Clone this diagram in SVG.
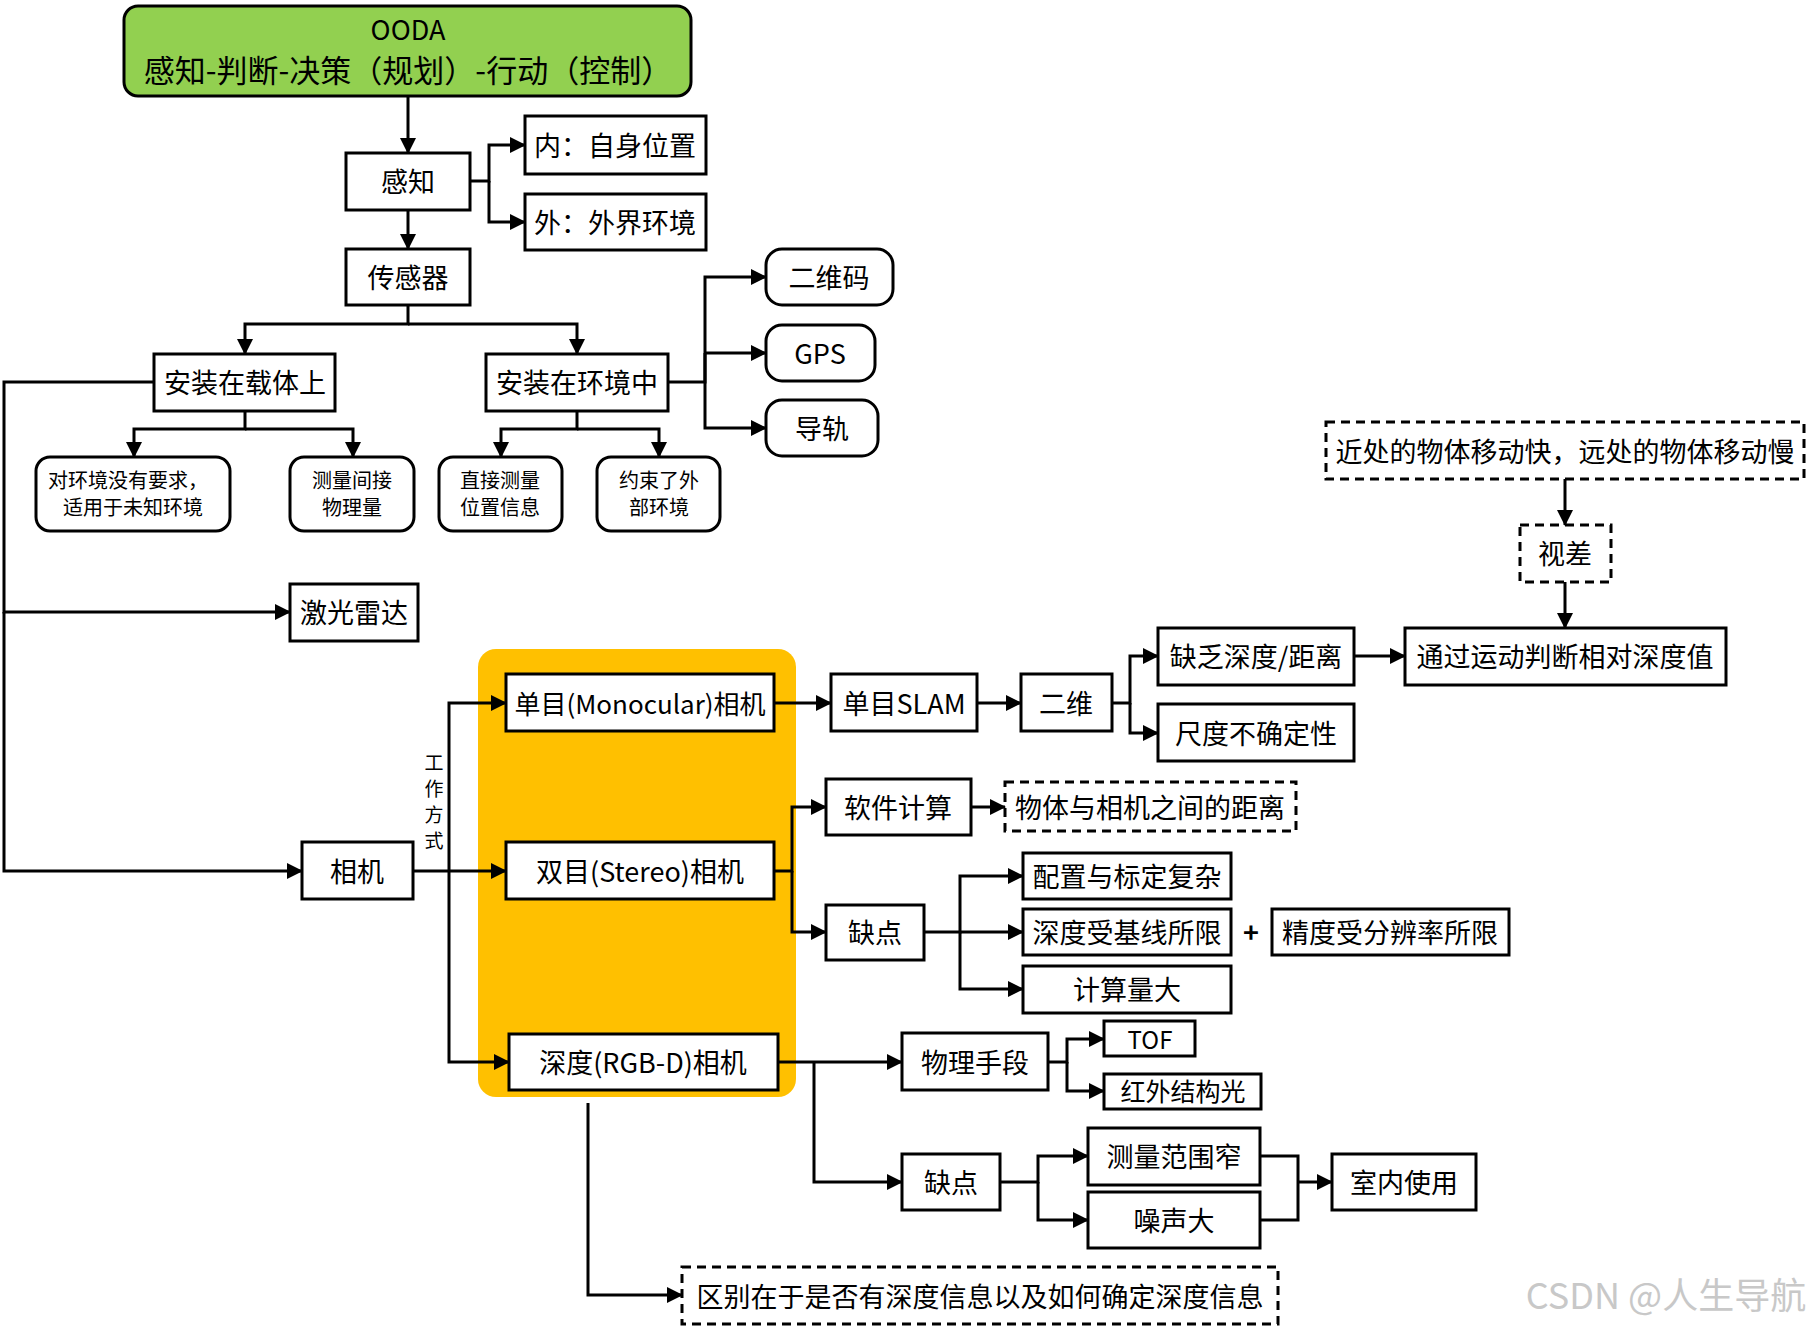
<svg xmlns="http://www.w3.org/2000/svg" width="1807" height="1327" viewBox="0 0 1807 1327">
<defs>
<marker id="a" markerUnits="userSpaceOnUse" markerWidth="16" markerHeight="16" refX="15" refY="8" orient="auto"><path d="M0,0 L16,8 L0,16 z" fill="#000"/></marker>
<style>
.b{fill:#fff;stroke:#000;stroke-width:3}
.d{fill:#fff;stroke:#000;stroke-width:3;stroke-dasharray:9,6}
text{font-family:"Noto Sans CJK SC","Noto Sans",sans-serif;font-size:27px;text-anchor:middle;dominant-baseline:central;fill:#000}
.s{font-size:20px}
.c path{fill:none;stroke:#000;stroke-width:3}
</style>
</defs>
<rect width="1807" height="1327" fill="#fff"/>
<rect x="478" y="649" width="318" height="448" rx="18" fill="#FFC000"/>
<g id="ooda"><rect x="124" y="6" width="567" height="90" rx="14" fill="#92D050" stroke="#000" stroke-width="3"/><text x="408" y="28">OODA</text><text x="408" y="68" style="font-size:31px">感知-判断-决策（规划）-行动（控制）</text></g>
<g id="n1"><rect class="b" x="346" y="153" width="124" height="57"/><text x="408" y="180">感知</text></g>
<g id="n2"><rect class="b" x="525" y="116" width="181" height="58"/><text x="615" y="144">内：自身位置</text></g>
<g id="n3"><rect class="b" x="525" y="194" width="181" height="56"/><text x="615" y="221">外：外界环境</text></g>
<g id="n4"><rect class="b" x="346" y="249" width="124" height="56"/><text x="408" y="276">传感器</text></g>
<g id="n5"><rect class="b" x="154" y="354" width="181" height="57"/><text x="245" y="381">安装在载体上</text></g>
<g id="n6"><rect class="b" x="486" y="354" width="182" height="57"/><text x="577" y="381">安装在环境中</text></g>
<g id="n7"><rect class="b" x="766" y="249" width="127" height="56" rx="16"/><text x="829" y="276">二维码</text></g>
<g id="n8"><rect class="b" x="766" y="325" width="109" height="56" rx="16"/><text x="820" y="352">GPS</text></g>
<g id="n9"><rect class="b" x="766" y="400" width="112" height="56" rx="16"/><text x="822" y="427">导轨</text></g>
<g id="n10"><rect class="b" x="36" y="457" width="194" height="74" rx="14"/><text class="s" x="128" y="479">对环境没有要求，</text><text class="s" x="133" y="506">适用于未知环境</text></g>
<g id="n11"><rect class="b" x="290" y="457" width="124" height="74" rx="14"/><text class="s" x="352" y="479">测量间接</text><text class="s" x="352" y="506">物理量</text></g>
<g id="n12"><rect class="b" x="439" y="457" width="123" height="74" rx="14"/><text class="s" x="500" y="479">直接测量</text><text class="s" x="500" y="506">位置信息</text></g>
<g id="n13"><rect class="b" x="597" y="457" width="123" height="74" rx="14"/><text class="s" x="659" y="479">约束了外</text><text class="s" x="659" y="506">部环境</text></g>
<g id="n14"><rect class="b" x="290" y="584" width="128" height="57"/><text x="354" y="611">激光雷达</text></g>
<g id="n15"><rect class="b" x="302" y="842" width="111" height="57"/><text x="357" y="870">相机</text></g>
<g id="n16"><rect class="b" x="506" y="674" width="268" height="57"/><text x="640" y="702" style="font-size:26px">单目(Monocular)相机</text></g>
<g id="n17"><rect class="b" x="506" y="842" width="268" height="57"/><text x="640" y="870">双目(Stereo)相机</text></g>
<g id="n18"><rect class="b" x="509" y="1034" width="269" height="56"/><text x="643" y="1061">深度(RGB-D)相机</text></g>
<g id="n19"><rect class="b" x="831" y="674" width="146" height="57"/><text x="904" y="702">单目SLAM</text></g>
<g id="n20"><rect class="b" x="1021" y="674" width="91" height="57"/><text x="1066" y="702">二维</text></g>
<g id="n21"><rect class="b" x="1158" y="628" width="196" height="57"/><text x="1256" y="655">缺乏深度/距离</text></g>
<g id="n22"><rect class="b" x="1158" y="704" width="196" height="57"/><text x="1256" y="732">尺度不确定性</text></g>
<g id="n23"><rect class="b" x="1405" y="628" width="321" height="57"/><text x="1565" y="655">通过运动判断相对深度值</text></g>
<g id="n24"><rect class="d" x="1326" y="422" width="478" height="57"/><text x="1565" y="450">近处的物体移动快，远处的物体移动慢</text></g>
<g id="n25"><rect class="d" x="1520" y="525" width="91" height="57"/><text x="1565" y="552">视差</text></g>
<g id="n26"><rect class="b" x="826" y="779" width="145" height="56"/><text x="898" y="806">软件计算</text></g>
<g id="n27"><rect class="d" x="1005" y="782" width="291" height="49"/><text x="1150" y="806">物体与相机之间的距离</text></g>
<g id="n28"><rect class="b" x="826" y="905" width="98" height="55"/><text x="875" y="931">缺点</text></g>
<g id="n29"><rect class="b" x="1023" y="853" width="208" height="46"/><text x="1127" y="875">配置与标定复杂</text></g>
<g id="n30"><rect class="b" x="1023" y="909" width="208" height="46"/><text x="1127" y="931">深度受基线所限</text></g>
<g id="n31"><rect class="b" x="1023" y="966" width="208" height="47"/><text x="1127" y="988">计算量大</text></g>
<g id="n32"><rect class="b" x="1272" y="909" width="237" height="46"/><text x="1390" y="931">精度受分辨率所限</text></g>
<text x="1251" y="931" style="font-weight:bold">+</text>
<g id="n33"><rect class="b" x="902" y="1033" width="146" height="57"/><text x="975" y="1061">物理手段</text></g>
<g id="n34"><rect class="b" x="1104" y="1021" width="91" height="35"/><text x="1150" y="1038" style="font-size:24px">TOF</text></g>
<g id="n35"><rect class="b" x="1104" y="1074" width="157" height="35"/><text x="1183" y="1090" style="font-size:25px">红外结构光</text></g>
<g id="n36"><rect class="b" x="902" y="1154" width="98" height="56"/><text x="951" y="1181">缺点</text></g>
<g id="n37"><rect class="b" x="1088" y="1128" width="172" height="57"/><text x="1174" y="1155">测量范围窄</text></g>
<g id="n38"><rect class="b" x="1088" y="1192" width="172" height="56"/><text x="1174" y="1219">噪声大</text></g>
<g id="n39"><rect class="b" x="1332" y="1154" width="144" height="56"/><text x="1404" y="1181">室内使用</text></g>
<g id="n40"><rect class="d" x="682" y="1267" width="596" height="57"/><text x="980" y="1295">区别在于是否有深度信息以及如何确定深度信息</text></g>
<text class="s" style="font-size:19px"><tspan x="434" y="761">工</tspan><tspan x="434" y="787">作</tspan><tspan x="434" y="813">方</tspan><tspan x="434" y="839">式</tspan></text>
<text x="1666" y="1293" style="font-size:36px;fill:#c8c8c8">CSDN @人生导航</text>
<g class="c">
<path d="M408,96 V153" marker-end="url(#a)"/>
<path d="M470,181 H489 V145 H525" marker-end="url(#a)"/>
<path d="M489,181 V222 H525" marker-end="url(#a)"/>
<path d="M408,210 V249" marker-end="url(#a)"/>
<path d="M408,305 V324 H245 V354" marker-end="url(#a)"/>
<path d="M408,324 H577 V354" marker-end="url(#a)"/>
<path d="M154,382 H4 V612 H290" marker-end="url(#a)"/>
<path d="M4,612 V871 H302" marker-end="url(#a)"/>
<path d="M245,411 V429 H134 V457" marker-end="url(#a)"/>
<path d="M245,429 H353 V457" marker-end="url(#a)"/>
<path d="M577,411 V429 H501 V457" marker-end="url(#a)"/>
<path d="M577,429 H659 V457" marker-end="url(#a)"/>
<path d="M668,382 H705 V277 H766" marker-end="url(#a)"/>
<path d="M705,353 H766" marker-end="url(#a)"/>
<path d="M705,353 V428 H766" marker-end="url(#a)"/>
<path d="M413,871 H506" marker-end="url(#a)"/>
<path d="M449,871 V703 H506" marker-end="url(#a)"/>
<path d="M449,871 V1062 H509" marker-end="url(#a)"/>
<path d="M774,703 H831" marker-end="url(#a)"/>
<path d="M977,703 H1021" marker-end="url(#a)"/>
<path d="M1112,703 H1130 V656 H1158" marker-end="url(#a)"/>
<path d="M1130,703 V733 H1158" marker-end="url(#a)"/>
<path d="M1354,656 H1405" marker-end="url(#a)"/>
<path d="M1565,479 V525" marker-end="url(#a)"/>
<path d="M1565,582 V628" marker-end="url(#a)"/>
<path d="M774,871 H792 V807 H826" marker-end="url(#a)"/>
<path d="M792,871 V932 H826" marker-end="url(#a)"/>
<path d="M971,807 H1005" marker-end="url(#a)"/>
<path d="M924,932 H960 V876 H1023" marker-end="url(#a)"/>
<path d="M960,932 H1023" marker-end="url(#a)"/>
<path d="M960,932 V989 H1023" marker-end="url(#a)"/>
<path d="M778,1062 H902" marker-end="url(#a)"/>
<path d="M814,1062 V1182 H902" marker-end="url(#a)"/>
<path d="M1048,1062 H1067 V1039 H1104" marker-end="url(#a)"/>
<path d="M1067,1062 V1091 H1104" marker-end="url(#a)"/>
<path d="M1000,1182 H1038 V1156 H1088" marker-end="url(#a)"/>
<path d="M1038,1182 V1220 H1088" marker-end="url(#a)"/>
<path d="M1260,1156 H1298 V1220 H1260"/>
<path d="M1298,1182 H1332" marker-end="url(#a)"/>
<path d="M588,1103 V1295 H682" marker-end="url(#a)"/>
</g>
</svg>
